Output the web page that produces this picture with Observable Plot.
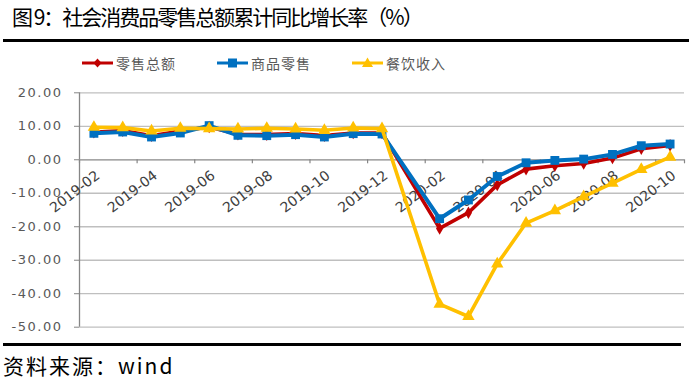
<!DOCTYPE html>
<html>
<head>
<meta charset="utf-8">
<script src="https://cdn.jsdelivr.net/npm/d3@7"></script>
<script src="https://cdn.jsdelivr.net/npm/@observablehq/plot@0.6"></script>
<style>
  html, body { margin: 0; padding: 0; background: #fff; }
  #wrap { position: relative; width: 692px; height: 389px; overflow: hidden; font-family: "Noto Sans CJK SC", "Noto Sans", sans-serif; }
  #title { position: absolute; left: 12px; top: 1px; font-size: 21px; color: #000; white-space: nowrap; letter-spacing: -2px; }
  #rule1 { position: absolute; left: 3px; top: 39px; width: 686px; height: 3px; background: #000; }
  #legend { position: absolute; top: 53px; left: 0; width: 692px; height: 20px; font-size: 14px; color: #595959; }
  .item { position: absolute; top: 0; display: flex; align-items: center; height: 20px; letter-spacing: 1px; }
  .item svg { margin-right: 3px; }
  #chart { position: absolute; left: 0; top: 75px; }
  #chart svg g[aria-label="y-axis tick label"] text { letter-spacing: 1.5px; }
  #rule2 { position: absolute; left: 3px; top: 343px; width: 678px; height: 3px; background: #000; }
  #caption { position: absolute; left: 3px; top: 350px; font-size: 21px; color: #000; white-space: nowrap; letter-spacing: 2px; }
</style>
</head>
<body>
<div id="wrap">
  <div id="title">图 9：社会消费品零售总额累计同比增长率（%）</div>
  <div id="rule1"></div>
  <div id="legend"></div>
  <div id="chart"></div>
  <div id="rule2"></div>
  <div id="caption">资料来源：wind</div>
</div>
<script>
// ---- data ----
const months = ["2019-02","2019-03","2019-04","2019-05","2019-06","2019-07","2019-08","2019-09","2019-10","2019-11","2019-12",
                "2020-01","2020-02","2020-03","2020-04","2020-05","2020-06","2020-07","2020-08","2020-09","2020-10"];
const retailTotal = [8.2, 8.7, 7.2, 8.6, 9.8, 7.6, 7.5, 7.8, 7.2, 8.0, 8.0, null, -20.5, -15.8, -7.5, -2.8, -1.8, -1.1, 0.5, 3.3, 4.3];
const goodsRetail = [7.9, 8.3, 6.8, 8.0, 10.2, 7.3, 7.2, 7.5, 6.8, 7.8, 7.7, null, -17.6, -12.0, -5.0, -0.9, -0.2, 0.2, 1.6, 4.2, 4.7];
const cateringIncome = [9.7, 9.6, 8.6, 9.4, 9.3, 9.2, 9.4, 9.2, 8.8, 9.5, 9.3, null, -43.1, -46.8, -31.1, -18.9, -15.2, -11.0, -7.0, -2.9, 0.8];
const seriesNames = ["零售总额", "商品零售", "餐饮收入"];
const yTicks = [20, 10, 0, -10, -20, -30, -40, -50];
const xTickLabels = ["2019-02","2019-04","2019-06","2019-08","2019-10","2019-12","2020-02","2020-04","2020-06","2020-08","2020-10"];

const colors = ["#C00000", "#0070C0", "#FFC000"];
const symbols = ["diamond", "square", "triangle"];
const valuesList = [retailTotal, goodsRetail, cateringIncome];

const rows = (vals) => months.map((m, i) => ({i, m, v: vals[i]})).filter(d => d.v != null);
const idx = (m) => months.indexOf(m);
// category boundaries every two months (Excel "between tick marks")
const xTickPos = d3.range(-0.5, months.length + 0.5, 2).concat([months.length - 0.5]);

const gray = "#595959";

const marks = [
  Plot.ruleY(yTicks, {stroke: "#BFBFBF", strokeWidth: 1.3}),
  Plot.ruleX([-0.5], {stroke: "#868686", strokeWidth: 1.3}),
  Plot.ruleY([0], {stroke: "#A6A6A6", strokeWidth: 1.3}),
  Plot.ruleX(xTickPos, {x: d => d, y1: () => 0, y2: () => -1.2, stroke: "#868686", strokeWidth: 1.2}),
  Plot.axisY({ticks: yTicks, label: null, tickSize: 5, tickPadding: 12, tickFormat: d => d.toFixed(2), fontSize: 13, fontFamily: "DejaVu Sans", stroke: "#868686", fill: gray, ariaLabel: "y-axis"}),
  Plot.text(xTickLabels, {x: d => idx(d), y: () => 0, text: d => d, rotate: -38, textAnchor: "end", lineAnchor: "middle", dx: 4, dy: 14, fontSize: 14, fontFamily: "DejaVu Sans", fill: "#404040"})
];
valuesList.forEach((vals, k) => {
  const data = rows(vals);
  marks.push(Plot.line(data, {x: "i", y: "v", stroke: colors[k], strokeWidth: k === 1 ? 4 : 3.6, strokeLinejoin: "round"}));
  const r = k === 0 ? 3.8 : (k === 1 ? 5 : 4.6);
  marks.push(Plot.dot(data, {x: "i", y: "v", symbol: symbols[k], r, fill: colors[k], stroke: "none"}));
});

const chart = Plot.plot({
  width: 692,
  height: 265,
  marginLeft: 79,
  marginRight: 8,
  marginTop: 17.3,
  marginBottom: 13.3,
  x: {type: "linear", domain: [-0.5, months.length - 0.5], axis: null},
  y: {domain: [-50, 20], axis: null},
  style: {fontFamily: "DejaVu Sans", color: gray, background: "transparent", overflow: "visible"},
  marks
});
document.getElementById("chart").appendChild(chart);

// ---- legend ----
const legend = document.getElementById("legend");
const legendX = [82, 217, 352];
seriesNames.forEach((name, k) => {
  const item = document.createElement("div");
  item.className = "item";
  item.style.left = legendX[k] + "px";
  const sym = k === 0
    ? '<path d="M15.5,5.5 L19.5,10 L15.5,14.5 L11.5,10 Z" fill="' + colors[k] + '"/>'
    : k === 1
      ? '<rect x="11" y="5.5" width="9" height="9" fill="' + colors[k] + '"/>'
      : '<path d="M15.5,4.5 L21,14 L10,14 Z" fill="' + colors[k] + '"/>';
  item.innerHTML = '<svg width="31" height="20"><line x1="0" y1="10" x2="31" y2="10" stroke="' + colors[k] + '" stroke-width="3"/>' + sym + '</svg><span>' + name + '</span>';
  legend.appendChild(item);
});
</script>
</body>
</html>
